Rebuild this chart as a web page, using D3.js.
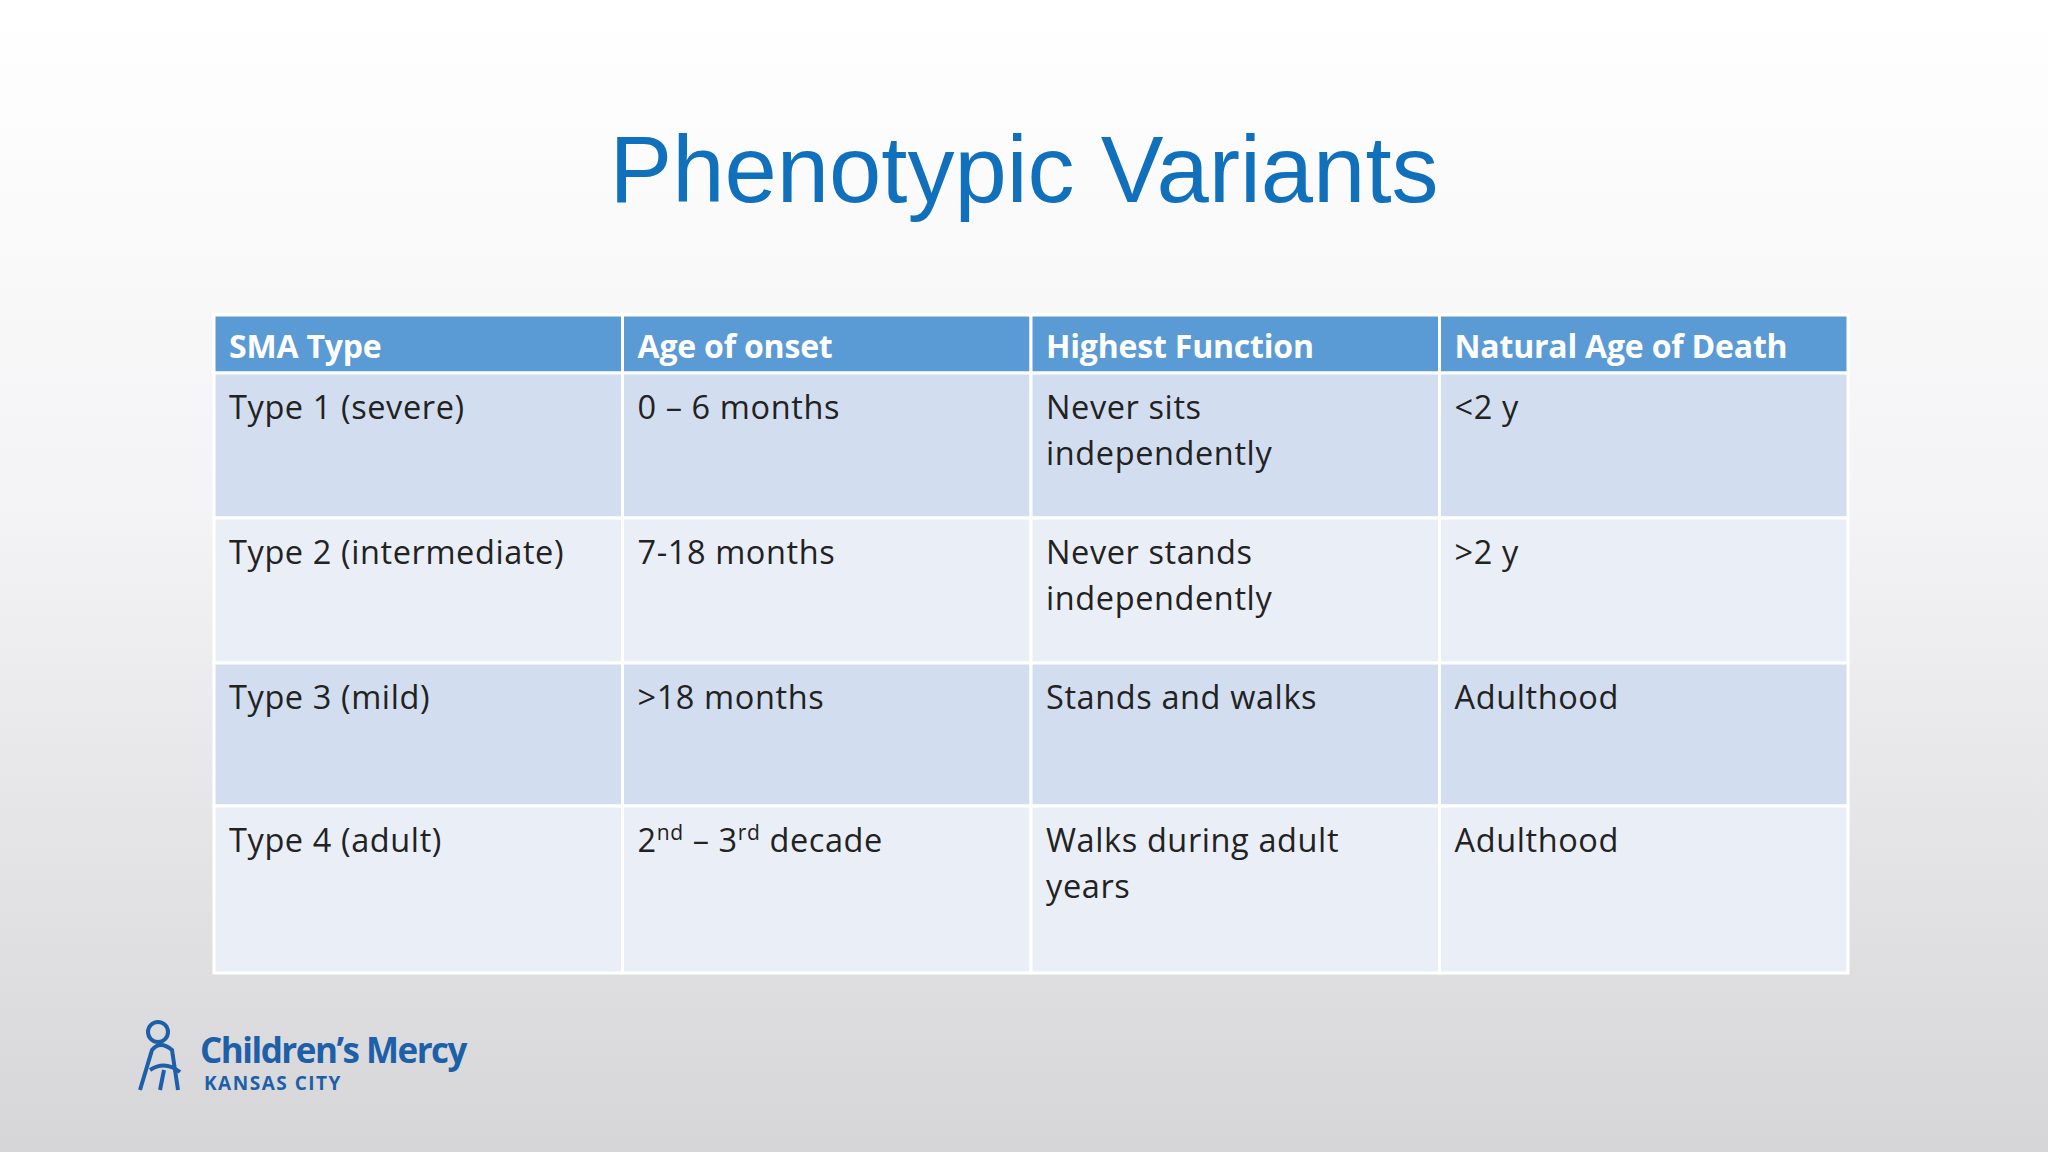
<!DOCTYPE html>
<html><head><meta charset="utf-8">
<script src="https://cdn.jsdelivr.net/npm/d3@7"></script>
<style>body{margin:0;overflow:hidden}</style>
</head><body><svg id="c" width="2048" height="1152"></svg>
<script>
const headers = ["SMA Type","Age of onset","Highest Function","Natural Age of Death"];
const smaTypes = ["Type 1 (severe)","Type 2 (intermediate)","Type 3 (mild)","Type 4 (adult)"];
const onsets = ["0 – 6 months","7-18 months",">18 months","2^nd – 3^rd decade"];
const functions = [["Never sits","independently"],["Never stands","independently"],["Stands and walks"],["Walks during adult","years"]];
const deaths = ["<2 y",">2 y","Adulthood","Adulthood"];

const svg = d3.select("#c");
const defs = svg.append("defs");
const g = defs.append("linearGradient").attr("id","bg").attr("x1",0).attr("y1",0).attr("x2",0).attr("y2",1);
g.append("stop").attr("offset","0").attr("stop-color","#ffffff");
g.append("stop").attr("offset","0.45").attr("stop-color","#f3f3f5");
g.append("stop").attr("offset","1").attr("stop-color","#d6d6d8");
svg.append("rect").attr("width",2048).attr("height",1152).attr("fill","url(#bg)");

svg.append("text").attr("x",1024).attr("y",202).attr("text-anchor","middle")
  .attr("font-family","Liberation Sans, Arial").attr("font-size",94).attr("fill","#1170bc")
  .text("Phenotypic Variants");

const x = d3.scaleBand().domain(d3.range(4)).range([214,1848]).padding(0);
const rowEdges = [315,373,518,663,806,973];
const font = "Open Sans, Lato, sans-serif";
const fs = 32.5;
const ls = 0.6;

const rows = smaTypes.map((t,i)=>[[t],[onsets[i]],functions[i],[deaths[i]]]);

headers.forEach((h,j)=>{
  svg.append("rect").attr("x",x(j)).attr("y",rowEdges[0]).attr("width",x.bandwidth()).attr("height",rowEdges[1]-rowEdges[0])
    .attr("fill","#5b9bd5").attr("stroke","#fff").attr("stroke-width",3);
  svg.append("text").attr("x",x(j)+15).attr("y",rowEdges[0]+43).attr("font-family",font).attr("font-weight","bold")
    .attr("font-size",32).attr("letter-spacing",-0.2).attr("fill","#fff").text(h);
});
rows.forEach((r,i)=>{
  const y0=rowEdges[i+1], y1=rowEdges[i+2];
  r.forEach((lines,j)=>{
    svg.append("rect").attr("x",x(j)).attr("y",y0).attr("width",x.bandwidth()).attr("height",y1-y0)
      .attr("fill", i%2===0?"#d2deef":"#eaeff7").attr("stroke","#fff").attr("stroke-width",3);
    lines.forEach((ln,k)=>{
      const t = svg.append("text").attr("x",x(j)+15).attr("y",y0+46+k*46).attr("font-family",font)
        .attr("font-size",fs).attr("letter-spacing",ls).attr("fill","#222");
      let raised = false;
      ln.split(/(\^\w+)/).forEach(p=>{
        if(!p) return;
        if(p[0]==="^"){ t.append("tspan").attr("font-size",21).attr("dy",-12).text(p.slice(1)); raised=true; }
        else { t.append("tspan").attr("dy", raised?12:0).text(p); raised=false; }
      });
    });
  });
});

const lg = svg.append("g").attr("transform","translate(130,1020)").attr("fill","none").attr("stroke","#1d5fa8").attr("stroke-width",4);
lg.append("circle").attr("cx",28).attr("cy",12).attr("r",10);
lg.append("path").attr("d","M10,70 L22,30 Q30,20 42,30 L48,70 M20,50 Q35,40 50,52 M30,70 L34,50");
svg.append("text").attr("x",200).attr("y",1063).attr("font-family","Open Sans, sans-serif").attr("font-weight","bold")
  .attr("font-size",35).attr("letter-spacing",-1.5).attr("fill","#1d5fa8").text("Children’s Mercy");
svg.append("text").attr("x",204).attr("y",1090).attr("font-family","Open Sans, sans-serif").attr("font-weight","bold")
  .attr("font-size",19).attr("letter-spacing",1.5).attr("fill","#1d5fa8").text("KANSAS CITY");
</script></body></html>
